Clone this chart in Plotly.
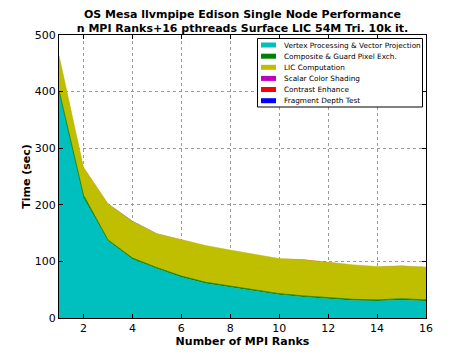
import plotly.graph_objects as go

ranks = list(range(1, 17))
vertex = [400, 212, 136, 104, 87, 72, 61, 54, 47, 41, 37, 34, 31, 30, 32, 30]
composite = [2, 5, 2, 2, 2, 2, 2, 2, 2, 2, 2, 2, 2, 2, 2, 2]
lic = [62, 49, 64, 65, 60, 64, 65, 64, 64, 62, 64, 62, 61, 59, 58, 58]
scalar = [0.1] * 16
contrast = [0.05] * 16
fragment = [0.05] * 16

names = [
    "Vertex Processing & Vector Projection",
    "Composite & Guard Pixel Exch.",
    "LIC Computation",
    "Scalar Color Shading",
    "Contrast Enhance",
    "Fragment Depth Test",
]
colors = ["#00BFBF", "#008000", "#BFBF00", "#BF00BF", "#FF0000", "#0000FF"]
edge_widths = [0.5, 0.8, 0.5, 0, 0, 0]
values = [vertex, composite, lic, scalar, contrast, fragment]

W, H = 474, 355
L, R, T, B = 59, 426, 35, 318  # plot area pixel box

fig = go.Figure()
for name, vals, col, lw in zip(names, values, colors, edge_widths):
    fig.add_trace(go.Scatter(
        x=ranks, y=vals, name=name, mode="lines", stackgroup="one",
        line=dict(color=col, width=lw), fillcolor=col, showlegend=False,
    ))

def px(x):
    return (x - L) / (R - L)

def py(y):
    return (B - y) / (B - T)

font = "DejaVu Sans"
shapes = [dict(type="rect", xref="paper", yref="paper",
               x0=px(257.5), x1=px(422.5), y0=py(107), y1=py(38.5),
               line=dict(color="black", width=1), fillcolor="white", layer="above")]
annotations = []
row_y = [45, 56.2, 67.3, 78.4, 89.5, 100.7]
for name, col, yc in zip(names, colors, row_y):
    shapes.append(dict(type="rect", xref="paper", yref="paper",
                       x0=px(261), x1=px(276), y0=py(yc + 2.5), y1=py(yc - 2.5),
                       line=dict(width=0), fillcolor=col, layer="above"))
    annotations.append(dict(xref="paper", yref="paper", x=px(281.5), y=py(yc),
                            text=name, showarrow=False, xanchor="left", yanchor="middle",
                            font=dict(size=7.3, family=font, color="black")))

fig.update_layout(
    width=W, height=H,
    margin=dict(l=L, r=W - R, t=T, b=H - B),
    plot_bgcolor="white", paper_bgcolor="white",
    font=dict(family=font, size=11, color="black"),
    title=dict(
        text="<b>OS Mesa llvmpipe Edison Single Node Performance<br>n MPI Ranks+16 pthreads Surface LIC 54M Tri. 10k it.</b>",
        x=(L + R) / 2 / W, xref="container", xanchor="center",
        y=1 - 18 / H, yref="container", yanchor="top",
        font=dict(size=11, family=font), automargin=False,
    ),
    showlegend=False,
    shapes=shapes,
    annotations=annotations,
)
fig.update_xaxes(
    range=[1, 16], tickvals=list(range(2, 17, 2)),
    showgrid=True, gridcolor="#9a9a9a", griddash="dot", gridwidth=1,
    showline=True, linecolor="black", linewidth=1, mirror="ticks",
    ticks="inside", ticklen=4, tickcolor="black", zeroline=False,
    automargin=False,
    title=dict(text="<b>Number of MPI Ranks</b>", standoff=3, font=dict(size=11)),
    tickfont=dict(size=11),
)
fig.update_yaxes(
    range=[0, 500], tickvals=list(range(0, 501, 100)),
    showgrid=True, gridcolor="#9a9a9a", griddash="dot", gridwidth=1,
    showline=True, linecolor="black", linewidth=1, mirror="ticks",
    ticks="inside", ticklen=4, tickcolor="black", zeroline=False,
    automargin=False,
    title=dict(text="<b>Time (sec)</b>", standoff=1, font=dict(size=11)),
    tickfont=dict(size=11),
)
fig.write_html("out.html", config={"displayModeBar": False},
               post_script="document.body.style.margin='0';")
